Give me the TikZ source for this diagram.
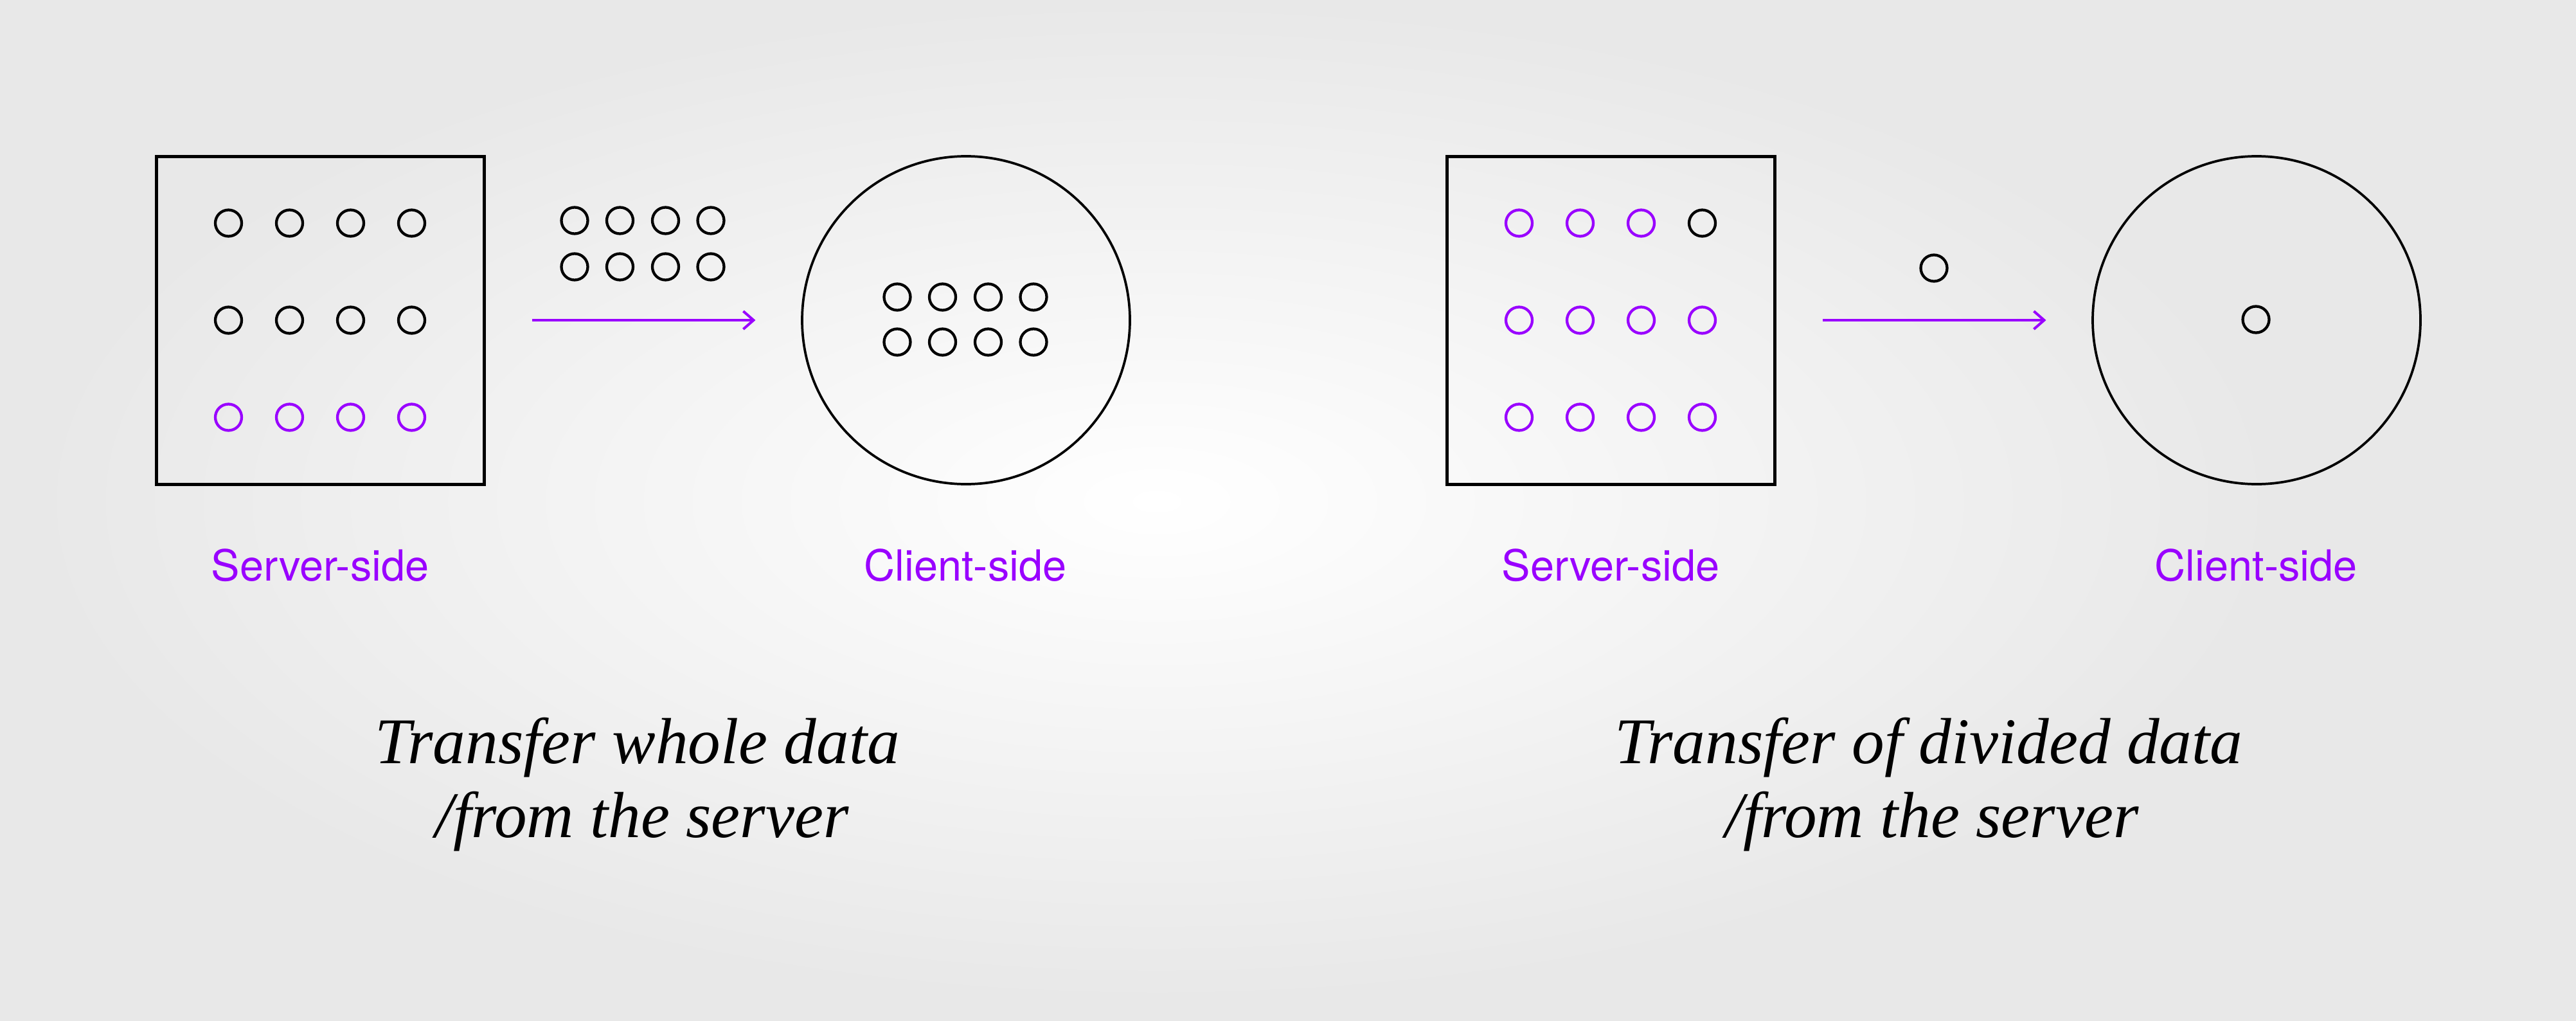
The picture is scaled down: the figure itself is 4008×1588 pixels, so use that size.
\documentclass[tikz,border=0pt]{standalone}
\usepackage{fontspec}
\usepackage{tikz}
\usetikzlibrary{arrows.meta}
\newfontfamily\sidefont{TeX Gyre Heros}
\newfontfamily\capfont{Liberation Serif}
\definecolor{vio}{RGB}{153,0,255}
\definecolor{bggray}{RGB}{232,232,232}

\tikzset{
  serverbox/.style={draw, line width=3.75pt, minimum size=382.5pt, inner sep=0pt},
  clientdisc/.style={draw, circle, line width=2.8pt, minimum size=382.5pt, inner sep=0pt},
  bit/.style={draw, circle, line width=3.2pt, minimum size=30.75pt, inner sep=0pt},
  flow/.style={draw=vio, line width=3pt, -{Straight Barb[length=12pt,width=21pt]}, shorten <=54pt, shorten >=53pt},
  sidelabel/.style={text=vio, font=\sidefont\fontsize{50}{60}\selectfont, anchor=base, inner sep=0pt},
  caption/.style={font=\capfont\itshape\fontsize{76}{90}\selectfont, anchor=base, inner sep=0pt}
}

\begin{document}
\begin{tikzpicture}[x=0.75pt,y=0.75pt,yscale=-1,xscale=1]
\useasboundingbox (0,0) rectangle (4008,1588);

% background
\fill[bggray] (0,0) rectangle (4008,1588);
\shade[inner color=white, outer color=bggray] (1800,780) ellipse (1750 and 780);

%Left: whole data
\node[serverbox] (srvA) at (498,498) {};
\node[clientdisc] (cliA) at (1503,498) {};
\foreach \c [count=\i] in {-142.5,-47.5,47.5,142.5} {
  \node[bit] (srvA-1-\i) at (498+\c,347) {};
  \node[bit] (srvA-2-\i) at (498+\c,498) {};
  \node[bit, draw=vio] (srvA-3-\i) at (498+\c,649) {};
}
\foreach \c [count=\i] in {-106,-35.5,35.5,106} {
  \node[bit] (moveA-1-\i) at (1000+\c,343) {};
  \node[bit] (moveA-2-\i) at (1000+\c,415) {};
  \node[bit] (cliA-1-\i) at (1502+\c,462) {};
  \node[bit] (cliA-2-\i) at (1502+\c,532) {};
}
\draw[flow] (srvA) -- (cliA);
\node[sidelabel] (srvAlbl) at (498,903) {Server-side};
\node[sidelabel] (cliAlbl) at (1502,903) {Client-side};
\node[caption] (capA1) at (992,1187) {Transfer whole data};
\node[caption] (capA2) at (999,1302) {/from the server};

%Right: divided data
\node[serverbox] (srvB) at (2506,498) {};
\node[clientdisc] (cliB) at (3511,498) {};
\foreach \c [count=\i] in {-142.5,-47.5,47.5,142.5} {
  \node[bit, draw=vio] (srvB-2-\i) at (2506+\c,498) {};
  \node[bit, draw=vio] (srvB-3-\i) at (2506+\c,649) {};
}
\foreach \c [count=\i] in {-142.5,-47.5,47.5} {
  \node[bit, draw=vio] (srvB-1-\i) at (2506+\c,347) {};
}
\node[bit] (srvB-1-4) at (2648.5,347) {};
\node[bit] (moveB) at (3009,417) {};
\node[bit] (cliB-1) at (3510,497) {};
\draw[flow] (srvB) -- (cliB);
\node[sidelabel] (srvBlbl) at (2506,903) {Server-side};
\node[sidelabel] (cliBlbl) at (3510,903) {Client-side};
\node[caption] (capB1) at (3001,1187) {Transfer of divided data};
\node[caption] (capB2) at (3006,1302) {/from the server};

\end{tikzpicture}
\end{document}
